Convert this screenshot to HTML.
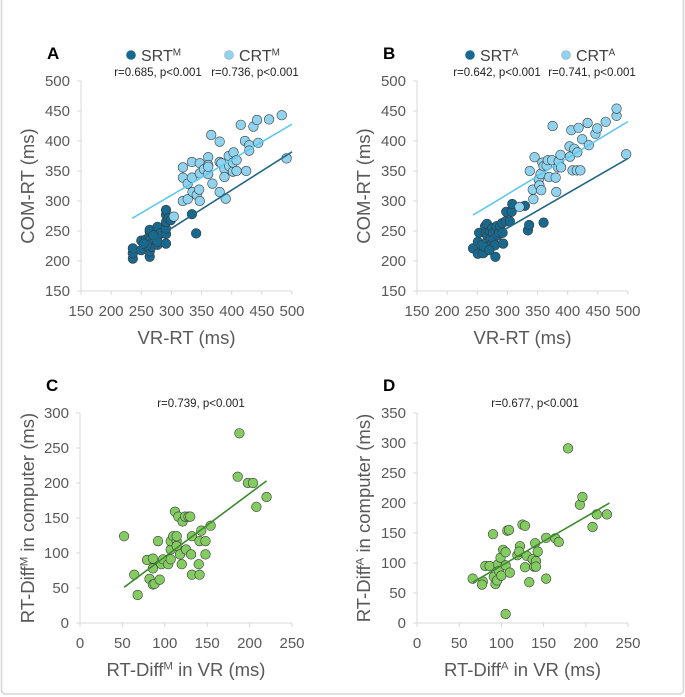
<!DOCTYPE html>
<html><head><meta charset="utf-8"><style>
html,body{margin:0;padding:0;background:#fff;}
svg{display:block;font-family:"Liberation Sans",Arial,sans-serif;}
</style></head><body>
<svg id="fig" width="685" height="697" viewBox="0 0 685 697" xmlns="http://www.w3.org/2000/svg">
<rect x="1.5" y="-5" width="682" height="699" rx="4" fill="#fff" stroke="#d6d6d6" stroke-width="1.5"/>
</svg>
<script>
// ---------- Panel A data ----------
const aSrtX = [236,236,236,250,250,258,264,264,264,264,264,264,267,273,277,277,277,277,277,281,291,291,291,291,291,291,295,299,334,341,270,259,254];
const aSrtY = [204,213,221,218,234,236,229,240,249,252,207,216,224,235,240,252,257,227,232,246,229,245,254,265,277,285,271,268,278,246,243,226,229];
const aCrtX = [304,319,319,319,327,327,334,334,335,342,346,347,347,347,354,361,361,361,361,366,368,380,380,380,383,388,388,390,395,396,402,402,403,408,408,415,422,424,429,429,436,442,444,462,483,491];
const aCrtY = [274,356,339,300,329,303,365,339,315,310,319,363,346,300,353,373,360,345,357,410,329,399,365,315,363,353,340,304,375,358,349,364,381,368,350,427,400,350,393,384,424,435,397,436,443,371];
const aSrtFit = [0.638, 63, 236, 500];   // slope, intercept, xStart, xEnd
const aCrtFit = [0.592, 132, 235, 500];
// ---------- Panel B data ----------
const bSrtX = [243,251,251,253,257,260,263,264,266,266,267,268,271,272,274,275,276,277,279,280,282,284,286,288,291,292,293,297,298,304,307,308,329,334,336,360,261,270];
const bSrtY = [221,212,232,247,226,213,258,246,262,232,242,224,249,238,229,255,246,235,226,207,258,243,247,258,263,247,229,266,282,266,282,295,292,251,260,264,224,218];
const bCrtX = [320,337,342,343,345,352,353,355,356,358,360,365,367,369,374,375,380,381,384,385,388,389,403,404,406,408,411,415,416,418,421,424,435,433,446,449,463,481,481,497];
const bCrtY = [290,350,319,303,373,336,326,345,318,364,358,359,368,340,368,425,339,315,356,366,377,356,391,374,418,351,387,351,381,422,351,403,393,430,412,421,432,442,454,378];
const bSrtFit = [0.58, 81, 243, 500];
const bCrtFit = [0.607, 129, 243, 500];
// ---------- Panel C data ----------
const cX = [52,64,68,79,82,86,86,86,88,92,94,96,98,104,107,107,107,110,112,114,114,114,116,118,120,121,124,125,128,130,131,132,132,140,141,141,143,148,148,154,186,188,198,204,208,220];
const cY = [124,69,40,90,63,92,78,55,56,117,62,84,91,84,105,117,91,124,159,117,124,110,152,98,84,145,152,105,152,152,98,124,69,84,69,117,132,117,98,139,209,271,200,200,166,180];
const cFit = [0.905, 4, 52, 220];
// ---------- Panel D data ----------
const dX = [66,78,77,81,86,90,91,93,95,96,97,99,100,102,105,105,105,107,109,110,119,122,121,125,128,128,130,133,137,139,140,141,143,141,153,153,164,168,179,193,196,208,213,225];
const dY = [74,69,64,95,95,148,77,65,71,98,87,109,79,122,118,96,15,154,155,84,113,128,119,164,162,93,112,68,106,94,133,103,119,94,74,142,141,135,291,197,210,160,181,181];
const dFit = [0.815, 14, 66, 228];
// ---------- Axis tick labels ----------
const abTicks = [150,200,250,300,350,400,450,500];
const cYTicks = [0,50,100,150,200,250,300];
const dYTicks = [0,50,100,150,200,250,300,350];
const cdXTicks = [0,50,100,150,200,250];

const NS = "http://www.w3.org/2000/svg";
const svg = document.getElementById('fig');
const SRT = "#17698f", CRT = "#8fd3ef", GRN = "#84cc62";

function mk(tag, attrs, parent){
  const e = document.createElementNS(NS, tag);
  for (const k in attrs) e.setAttribute(k, attrs[k]);
  (parent||svg).appendChild(e);
  return e;
}
function txt(parts, x, y, size, anchor, fill, weight, parent, rot){
  const t = mk('text', {x:x, y:y, 'font-size':size, 'text-anchor':anchor, fill:fill, 'font-weight':weight||'normal'}, parent);
  if (rot) t.setAttribute('transform', 'rotate(-90 '+x+' '+y+')');
  parts.forEach(p=>{
    const s = document.createElementNS(NS,'tspan');
    s.textContent = p[0];
    if (p[1]) { s.setAttribute('font-size', size*0.62); s.setAttribute('dy', -size*0.35); }
    else if (t.childNodes.length) { s.setAttribute('dy', size*0.35); }
    t.appendChild(s);
  });
  return t;
}

function panel(o){
  const g = mk('g', {});
  
  
  const sx = v => o.x0 + (v - o.xmin) / (o.xmax - o.xmin) * (o.x1 - o.x0);
  const sy = v => o.y1 - (v - o.ymin) / (o.ymax - o.ymin) * (o.y1 - o.y0);
  const ya = mk('line', {x1:o.x0, y1:o.y0, x2:o.x0, y2:o.y1, stroke:'#d9d9d9', 'stroke-width':1}, g);
  
  
  const xa = mk('line', {x1:o.x0, y1:o.y1, x2:o.x1, y2:o.y1, stroke:'#d9d9d9', 'stroke-width':1}, g);
  
  
  o.yTicks.forEach(v=>{
    mk('line', {x1:o.x0-4, y1:sy(v), x2:o.x0, y2:sy(v), stroke:'#d9d9d9'}, g);
    const t = txt([[String(v)]], o.x0-11, sy(v)+5, 15, 'end', '#595959', null, g);
    
    
  });
  o.xTicks.forEach(v=>{
    mk('line', {x1:sx(v), y1:o.y1, x2:sx(v), y2:o.y1+4, stroke:'#d9d9d9'}, g);
    const t = txt([[String(v)]], sx(v), o.y1+25, 15, 'middle', '#595959', null, g);
    
    
  });
  const yt = txt(o.yTitle, o.yTitleX, (o.y0+o.y1)/2, 18.5, 'middle', '#595959', null, g, true);
  
  
  const xt = txt(o.xTitle, (o.x0+o.x1)/2, o.y1+53, 18.5, 'middle', '#595959', null, g);
  
  
  const lt = txt([[o.letter]], o.x0-34, o.y0-22, 17, 'start', '#000', 'bold', g);
  
  
  o.series.forEach(s=>{
    const sg = mk('g', {}, g);
    
    
    s.xs.forEach((xv,i)=>{
      const c = mk('circle', {cx:sx(xv), cy:sy(s.ys[i]), r:4.8, fill:s.color, stroke:'#3a3a3a', 'stroke-width':0.6}, sg);
      
      
    });
  });
  o.fits.forEach(f=>{
    const x1v = f.fit[2], x2v = f.fit[3];
    const l = mk('line', {x1:sx(x1v), y1:sy(f.fit[0]*x1v+f.fit[1]), x2:sx(x2v), y2:sy(f.fit[0]*x2v+f.fit[1]), stroke:f.color, 'stroke-width':1.6}, g);
    
    
  });
  o.rtexts.forEach(r=>{
    const t = txt([[r[0]]], r[1], r[2], 11.5, 'middle', '#222', null, g);
    
    
  });
  o.legend.forEach(l=>{
    const c = mk('circle', {cx:l[1], cy:55, r:4.5, fill:l[2], stroke:l[3], 'stroke-width':0.6}, g);
    
    
    const t = txt(l[0], l[1]+10, 61, 16, 'start', '#404040', null, g);
    
    
  });
}

panel({name:'panel-a', letter:'A', x0:81, x1:292, y0:81, y1:291, xmin:150, xmax:500, ymin:150, ymax:500, yTitleX:34,
  xTicks:abTicks, yTicks:abTicks, yTitle:[['COM-RT (ms)']], xTitle:[['VR-RT (ms)']],
  series:[{name:'srt-m-series', xs:aSrtX, ys:aSrtY, color:SRT},{name:'crt-m-series', xs:aCrtX, ys:aCrtY, color:CRT}],
  fits:[{name:'srt-m-trendline', fit:aSrtFit, color:'#1f6688'},{name:'crt-m-trendline', fit:aCrtFit, color:'#5ec8f0'}],
  rtexts:[['r=0.685, p<0.001',158,76],['r=0.736, p<0.001',255,76]],
  legend:[[[['SRT'],['M',1]],131,SRT,SRT],[[['CRT'],['M',1]],229,CRT,'#9ab']]});
panel({name:'panel-b', letter:'B', x0:417, x1:628, y0:81, y1:291, xmin:150, xmax:500, ymin:150, ymax:500, yTitleX:370,
  xTicks:abTicks, yTicks:abTicks, yTitle:[['COM-RT (ms)']], xTitle:[['VR-RT (ms)']],
  series:[{name:'srt-a-series', xs:bSrtX, ys:bSrtY, color:SRT},{name:'crt-a-series', xs:bCrtX, ys:bCrtY, color:CRT}],
  fits:[{name:'srt-a-trendline', fit:bSrtFit, color:'#1f6688'},{name:'crt-a-trendline', fit:bCrtFit, color:'#5ec8f0'}],
  rtexts:[['r=0.642, p<0.001',497,76],['r=0.741, p<0.001',592,76]],
  legend:[[[['SRT'],['A',1]],470,SRT,SRT],[[['CRT'],['A',1]],566,CRT,'#9ab']]});
panel({name:'panel-c', letter:'C', x0:80, x1:292, y0:413, y1:623, xmin:0, xmax:250, ymin:0, ymax:300, yTitleX:34,
  xTicks:cdXTicks, yTicks:cYTicks, yTitle:[['RT-Diff'],['M',1],[' in computer (ms)']], xTitle:[['RT-Diff'],['M',1],[' in VR (ms)']],
  series:[{name:'rt-diff-m-series', xs:cX, ys:cY, color:GRN}],
  fits:[{name:'rt-diff-m-trendline', fit:cFit, color:'#3b8a2c'}],
  rtexts:[['r=0.739, p<0.001',201,407]], legend:[]});
panel({name:'panel-d', letter:'D', x0:417, x1:628, y0:413, y1:623, xmin:0, xmax:250, ymin:0, ymax:350, yTitleX:370,
  xTicks:cdXTicks, yTicks:dYTicks, yTitle:[['RT-Diff'],['A',1],[' in computer (ms)']], xTitle:[['RT-Diff'],['A',1],[' in VR (ms)']],
  series:[{name:'rt-diff-a-series', xs:dX, ys:dY, color:GRN}],
  fits:[{name:'rt-diff-a-trendline', fit:dFit, color:'#3b8a2c'}],
  rtexts:[['r=0.677, p<0.001',535,407]], legend:[]});
</script>
</body></html>
